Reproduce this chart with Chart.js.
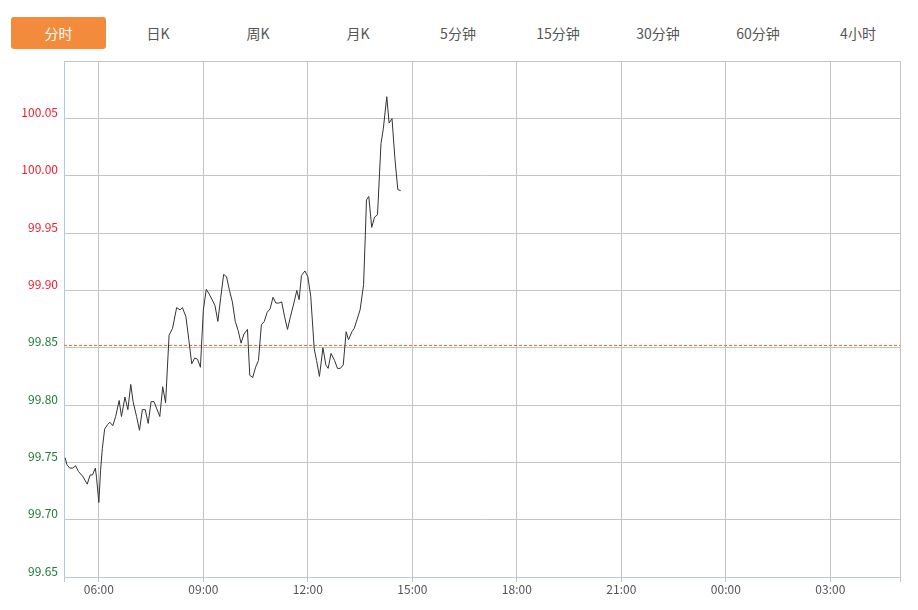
<!DOCTYPE html>
<html>
<head>
<meta charset="utf-8">
<script src="https://cdn.jsdelivr.net/npm/chart.js@4/dist/chart.umd.min.js"></script>
<style>
  body { margin: 0; background: #fff; font-family: "Noto Sans CJK SC", sans-serif; }
  .tabs { position: absolute; left: 8px; top: 17px; display: flex; }
  .tabs div { width: 100px; height: 32px; line-height: 32px; text-align: center; font-size: 14px; color: #555; box-sizing: border-box; }
  .tabs div.on { background: #f38b3d; color: #fff; border-radius: 3px; width: 95px; margin: 0 2px 0 3px; }
  .wrap { position: absolute; left: 0; top: 48px; width: 918px; height: 562px; }
</style>
</head>
<body>
<div class="tabs" id="tabs"></div>
<div class="wrap"><canvas id="chart"></canvas></div>
<script>
'use strict';

// 周期标签
const tabLabels = ['分时', '日K', '周K', '月K', '5分钟', '15分钟', '30分钟', '60分钟', '4小时'];

// x轴: 05:00 起 24 小时
const xTickLabels = ['06:00', '09:00', '12:00', '15:00', '18:00', '21:00', '00:00', '03:00'];

// 分时数据 (时间 / 价格)
const times = [
  '05:02', '05:05', '05:10', '05:15', '05:20', '05:25', '05:32', '05:40', '05:45', '05:49',
  '05:54', '05:56', '06:00', '06:03', '06:06', '06:10', '06:15', '06:19', '06:24', '06:29',
  '06:35', '06:39', '06:45', '06:50', '06:55', '06:59', '07:05', '07:10', '07:15', '07:20',
  '07:25', '07:30', '07:35', '07:45', '07:50', '07:55', '08:01', '08:07', '08:14', '08:20',
  '08:24', '08:30', '08:35', '08:40', '08:45', '08:50', '08:55', '09:00', '09:05', '09:10',
  '09:15', '09:20', '09:25', '09:30', '09:35', '09:40', '09:45', '09:50', '09:55', '10:00',
  '10:05', '10:10', '10:16', '10:20', '10:25', '10:30', '10:35', '10:40', '10:45', '10:50',
  '10:55', '11:00', '11:05', '11:10', '11:15', '11:20', '11:25', '11:30', '11:36', '11:41',
  '11:45', '11:49', '11:55', '12:00', '12:05', '12:11', '12:15', '12:20', '12:26', '12:31',
  '12:35', '12:40', '12:46', '12:51', '12:56', '13:01', '13:06', '13:10', '13:16', '13:20',
  '13:25', '13:30', '13:36', '13:39', '13:41', '13:45', '13:50', '13:55', '14:00', '14:06',
  '14:10', '14:16', '14:20', '14:25', '14:30', '14:35', '14:40'
];
const prices = [
  99.754, 99.748, 99.745, 99.745, 99.747, 99.742, 99.738, 99.731, 99.739, 99.739,
  99.745, 99.737, 99.715, 99.743, 99.762, 99.779, 99.783, 99.785, 99.782, 99.790,
  99.804, 99.790, 99.807, 99.796, 99.818, 99.803, 99.790, 99.778, 99.796, 99.796,
  99.784, 99.803, 99.803, 99.790, 99.816, 99.802, 99.861, 99.867, 99.885, 99.883,
  99.885, 99.877, 99.857, 99.836, 99.841, 99.840, 99.833, 99.883, 99.901, 99.897,
  99.892, 99.887, 99.873, 99.894, 99.914, 99.912, 99.900, 99.890, 99.873, 99.865,
  99.854, 99.862, 99.866, 99.826, 99.824, 99.833, 99.839, 99.870, 99.873, 99.881,
  99.884, 99.894, 99.889, 99.889, 99.890, 99.877, 99.866, 99.877, 99.889, 99.900,
  99.892, 99.913, 99.917, 99.912, 99.895, 99.849, 99.839, 99.825, 99.850, 99.835,
  99.832, 99.845, 99.839, 99.832, 99.832, 99.835, 99.864, 99.857, 99.864, 99.867,
  99.875, 99.883, 99.905, 99.948, 99.979, 99.982, 99.955, 99.964, 99.966, 100.028,
  100.041, 100.069, 100.046, 100.050, 100.015, 99.988, 99.987
];

// 昨收
const prevClose = 99.852;

const yMin = 99.65, yMax = 100.10, yStep = 0.05;
const startHour = 5;

function toMin(t) {
  const p = t.split(':');
  let m = (+p[0] - startHour) * 60 + (+p[1]);
  if (m < 0) m += 1440;
  return m;
}

// tabs
const tabBox = document.getElementById('tabs');
tabLabels.forEach(function(t, i) {
  const d = document.createElement('div');
  d.textContent = t;
  if (i === 0) d.className = 'on';
  tabBox.appendChild(d);
});

const linePts = times.map((t, i) => ({ x: toMin(t), y: prices[i] }));
const xTickVals = [0].concat(xTickLabels.map(toMin), [1440]);

new Chart(document.getElementById('chart'), {
  type: 'line',
  data: {
    datasets: [{
      data: linePts,
      borderColor: '#333',
      borderWidth: 1,
      pointRadius: 0,
      tension: 0
    }, {
      data: [{ x: 0, y: prevClose }, { x: 1440, y: prevClose }],
      borderColor: '#ee6a2a',
      borderWidth: 1,
      borderDash: [3, 2],
      pointRadius: 0
    }]
  },
  options: {
    responsive: true,
    maintainAspectRatio: false,
    animation: false,
    layout: { padding: { top: 5, right: 18, left: 0, bottom: 0 } },
    scales: {
      x: {
        type: 'linear',
        min: 0,
        max: 1440,
        afterBuildTicks: function(s) { s.ticks = xTickVals.map(v => ({ value: v })); },
        afterFit: function(s) { s.height = 33; },
        grid: { color: '#c4c4c4', tickLength: 5, tickColor: '#c4c4c4' },
        border: { color: '#bcc8d8' },
        ticks: {
          padding: 0,
          color: '#555',
          font: { family: 'Noto Sans CJK SC', size: 12 },
          maxRotation: 0,
          autoSkip: false,
          callback: function(v) {
            const i = xTickLabels.map(toMin).indexOf(v);
            return i < 0 ? '' : xTickLabels[i];
          }
        }
      },
      y: {
        min: yMin,
        max: yMax,
        afterFit: function(s) { s.width = 64; },
        grid: { color: '#c4c4c4', drawTicks: false },
        border: { color: '#bcc8d8' },
        ticks: {
          stepSize: yStep,
          padding: 6,
          labelOffset: -6,
          font: { family: 'Noto Sans CJK SC', size: 12 },
          color: function(c) { return c.tick.value > prevClose ? '#f01c2c' : '#1f7a3a'; },
          callback: function(v) { return Math.abs(v - yMax) < 1e-6 ? '' : v.toFixed(2); }
        }
      }
    },
    plugins: {
      legend: { display: false },
      tooltip: { enabled: false },
      title: { display: false }
    }
  }
});
</script>
</body>
</html>
